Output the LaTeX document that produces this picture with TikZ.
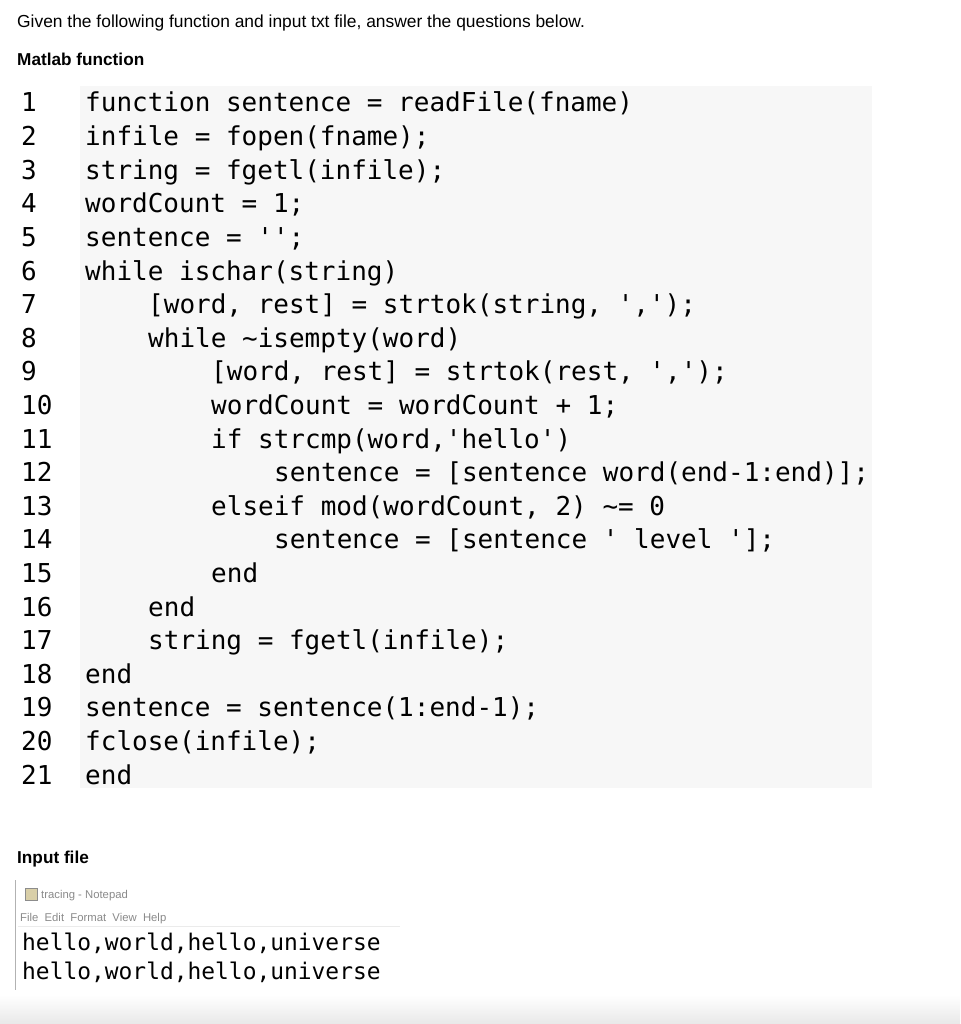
\documentclass[tikz,border=0pt]{standalone}
\usepackage{fontspec}
\setmainfont{Liberation Sans}
\setmonofont{DejaVu Sans Mono}
\definecolor{codebg}{HTML}{F7F7F7}
\definecolor{padgray}{HTML}{8A8A8A}
\definecolor{iconfill}{HTML}{D9CFA8}
\begin{document}
\begin{tikzpicture}[x=1pt,y=-1pt,
	codeline/.style={anchor=base west,inner sep=0pt,font=\fontsize{26}{26}\ttfamily},
	lineno/.style={codeline},
	heading/.style={anchor=base west,inner sep=0pt,font=\fontsize{17.2}{17.2}\selectfont\bfseries},
	padmenu/.style={anchor=base west,inner sep=0pt,text=padgray,font=\fontsize{11.3}{11.3}\selectfont},
	padline/.style={anchor=base west,inner sep=0pt,font=\fontsize{22.9}{22.9}\ttfamily}]
	\useasboundingbox (0,0) rectangle (960,1024);
	\fill[white] (0,0) rectangle (960,1024);
	% question and heading
	\node[anchor=base west,inner sep=0pt,font=\fontsize{17.4}{17.4}\selectfont] (question) at (17,28) {Given the following function and input txt file, answer the questions below.};
	\node[heading] (matlab) at (17,66) {Matlab function};
	% code listing
	\fill[codebg] (80,86) rectangle (872,788);
	\foreach \i in {1,...,21}
		\node[lineno] (n\i) at (21,{112+(\i-1)*33.6}) {\i};
	\node[codeline] (c1) at (85,112) {function sentence = readFile(fname)};
	\node[codeline] (c2) at (85,145.6) {infile = fopen(fname);};
	\node[codeline] (c3) at (85,179.2) {string = fgetl(infile);};
	\node[codeline] (c4) at (85,212.8) {wordCount = 1;};
	\node[codeline] (c5) at (85,246.4) {sentence = '';};
	\node[codeline] (c6) at (85,280) {while ischar(string)};
	\node[codeline] (c7) at (148,313.6) {[word, rest] = strtok(string, ',');};
	\node[codeline] (c8) at (148,347.2) {while \string~isempty(word)};
	\node[codeline] (c9) at (211,380.8) {[word, rest] = strtok(rest, ',');};
	\node[codeline] (c10) at (211,414.4) {wordCount = wordCount + 1;};
	\node[codeline] (c11) at (211,448) {if strcmp(word,'hello')};
	\node[codeline] (c12) at (274,481.6) {sentence = [sentence word(end-1:end)];};
	\node[codeline] (c13) at (211,515.2) {elseif mod(wordCount, 2) \string~= 0};
	\node[codeline] (c14) at (274,548.8) {sentence = [sentence ' level '];};
	\node[codeline] (c15) at (211,582.4) {end};
	\node[codeline] (c16) at (148,616) {end};
	\node[codeline] (c17) at (148,649.6) {string = fgetl(infile);};
	\node[codeline] (c18) at (85,683.2) {end};
	\node[codeline] (c19) at (85,716.8) {sentence = sentence(1:end-1);};
	\node[codeline] (c20) at (85,750.4) {fclose(infile);};
	\node[codeline] (c21) at (85,784) {end};
	% input file
	\node[heading] (input) at (17,863) {Input file};
	\draw[black!30,line width=1.5pt] (15.5,880) -- (15.5,990);
	\filldraw[fill=iconfill,draw=black!45] (25,888) rectangle (37,900);
	\node[padmenu] (title) at (41,898) {tracing - Notepad};
	\node[padmenu] (menu) at (20,921) {File\ \ Edit\ \ Format\ \ View\ \ Help};
	\draw[black!8] (18,926) -- (400,926);
	\node[padline] (row1) at (22,950) {hello,world,hello,universe};
	\node[padline] (row2) at (22,979) {hello,world,hello,universe};
	% bottom shadow
	\shade[top color=white,bottom color=black!9] (0,995) rectangle (960,1024);
\end{tikzpicture}
\end{document}
